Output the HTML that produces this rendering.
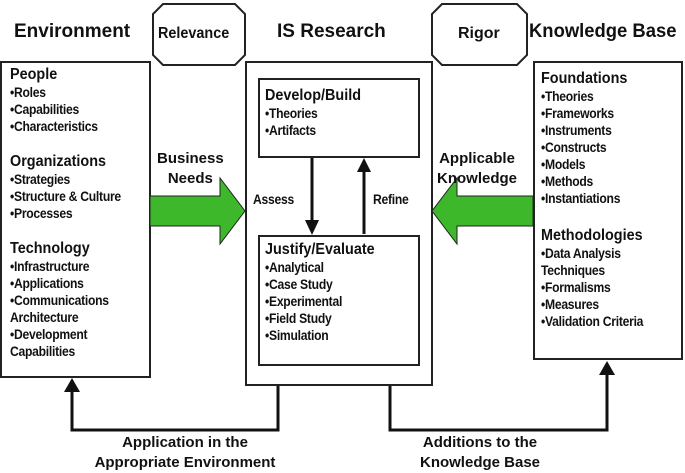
<!DOCTYPE html>
<html><head><meta charset="utf-8"><style>
body{margin:0;width:685px;height:471px;background:#fff;position:relative;overflow:hidden;font-family:"Liberation Sans Narrow","Liberation Sans",sans-serif;font-weight:bold;color:#111}
.a{position:absolute;white-space:nowrap}
.s{transform:scaleX(.9);transform-origin:0 0}
.box{position:absolute;border:2px solid #222;box-sizing:border-box;background:#fff}
.t{font-size:16px;line-height:18px}
.i{font-size:13.5px;line-height:17px;letter-spacing:-0.3px}
.h{font-size:19px;letter-spacing:0}
</style></head><body>
<div class="box" style="left:0;top:61px;width:151px;height:317px"></div>
<div class="box" style="left:245px;top:61px;width:188px;height:325px"></div>
<div class="box" style="left:258px;top:78px;width:162px;height:80px"></div>
<div class="box" style="left:258px;top:235px;width:162px;height:131px"></div>
<div class="box" style="left:533px;top:61px;width:150px;height:299px"></div>
<svg width="685" height="471" style="position:absolute;left:0;top:0">
<polygon points="163,4 235,4 245,14 245,55 235,65 163,65 153,55 153,14" fill="#fff" stroke="#222" stroke-width="2"/>
<polygon points="442,4 517,4 527,14 527,55 517,65 442,65 432,55 432,14" fill="#fff" stroke="#222" stroke-width="2"/>
<polygon points="150,196 220,196 220,178 245,211 220,244 220,226 150,226" fill="#3db82b" stroke="#222" stroke-width="1"/>
<polygon points="533,196 457,196 457,178 432,211 457,244 457,226 533,226" fill="#3db82b" stroke="#222" stroke-width="1"/>
<g stroke="#111" stroke-width="3" fill="none">
<polyline points="278,386 278,430 72,430 72,392"/>
<polyline points="390,386 390,430 607,430 607,375"/>
<line x1="312" y1="158" x2="312" y2="222"/>
<line x1="364" y1="234" x2="364" y2="172"/>
</g>
<polygon points="64,392 80,392 72,378" fill="#111"/>
<polygon points="599,375 615,375 607,361" fill="#111"/>
<polygon points="305,220 319,220 312,235" fill="#111"/>
<polygon points="357,172 371,172 364,158" fill="#111"/>
</svg>
<div class="a h" style="left:14px;top:21px">Environment</div>
<div class="a s" style="left:158px;top:25px;font-size:16px">Relevance</div>
<div class="a h" style="left:277px;top:21px">IS Research</div>
<div class="a" style="left:458px;top:25px;font-size:16px">Rigor</div>
<div class="a h" style="left:529px;top:21px;transform:scaleX(.97);transform-origin:0 0">Knowledge Base</div>

<div class="a s" style="left:10px;top:66px">
<div class="t">People</div><div class="i">•Roles<br>•Capabilities<br>•Characteristics</div>
<div class="t" style="margin-top:18px">Organizations</div><div class="i">•Strategies<br>•Structure &amp; Culture<br>•Processes</div>
<div class="t" style="margin-top:18px">Technology</div><div class="i">•Infrastructure<br>•Applications<br>•Communications<br>Architecture<br>•Development<br>Capabilities</div>
</div>

<div class="a s" style="left:265px;top:87px"><div class="t">Develop/Build</div><div class="i">•Theories<br>•Artifacts</div></div>
<div class="a s" style="left:265px;top:241px"><div class="t">Justify/Evaluate</div><div class="i">•Analytical<br>•Case Study<br>•Experimental<br>•Field Study<br>•Simulation</div></div>
<div class="a i s" style="left:253px;top:191px">Assess</div>
<div class="a i s" style="left:373px;top:191px">Refine</div>
<div class="a" style="left:157px;top:149px;font-size:15px;line-height:20px;text-align:center">Business<br>Needs</div>
<div class="a" style="left:437px;top:149px;font-size:15px;line-height:20px;text-align:center">Applicable<br>Knowledge</div>

<div class="a s" style="left:541px;top:70px">
<div class="t">Foundations</div><div class="i">•Theories<br>•Frameworks<br>•Instruments<br>•Constructs<br>•Models<br>•Methods<br>•Instantiations</div>
<div class="t" style="margin-top:20px">Methodologies</div><div class="i">•Data Analysis<br>Techniques<br>•Formalisms<br>•Measures<br>•Validation Criteria</div>
</div>

<div class="a" style="left:80px;top:433px;width:210px;text-align:center;font-size:15px;line-height:20px">Application in the<br>Appropriate Environment</div>
<div class="a" style="left:405px;top:433px;width:150px;text-align:center;font-size:15px;line-height:20px">Additions to the<br>Knowledge Base</div>
</body></html>
